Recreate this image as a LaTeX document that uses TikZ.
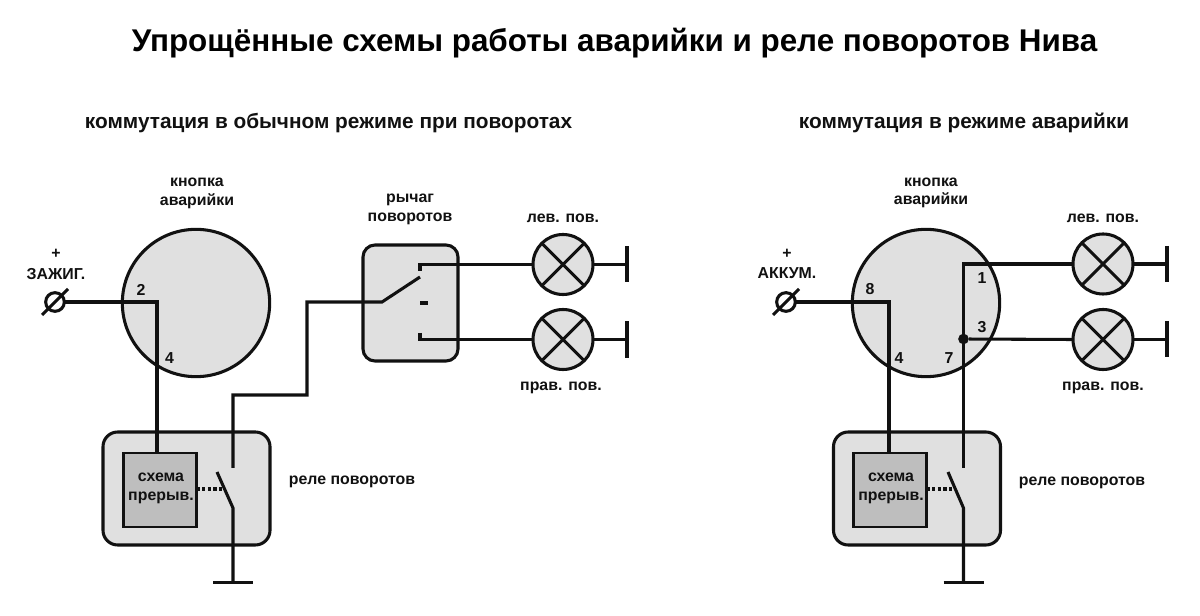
\documentclass[tikz,border=0pt]{standalone}
\usepackage{fontspec}
\setmainfont{Liberation Sans}
\definecolor{panel}{HTML}{E0E0E0}
\definecolor{inner}{HTML}{BEBEBE}
\definecolor{ink}{HTML}{111111}
\newcommand{\fs}[1]{\fontsize{#1}{#1}\selectfont\bfseries}
\tikzset{
  x=0.75pt,y=-0.75pt,
  wire/.style={draw=ink,line width=2.3pt,line join=miter},
  dotwire/.style={draw=ink,line width=2.3pt,dash pattern=on 2.4pt off 1.8pt},
  lbl/.style={inner sep=0pt,anchor=base,text=ink,font=\fs{11.9}},
  titlelbl/.style={lbl,font=\fs{23.55},text=black},
  sublbl/.style={lbl,font=\fs{15.6}},
  disc/.style={circle,draw=ink,fill=panel,line width=2.3pt,inner sep=0pt,minimum size=110.5pt,outer sep=0pt},
  lamp/.style={circle,draw=ink,fill=panel,line width=2.3pt,inner sep=0pt,minimum size=45pt,outer sep=0pt},
  term/.style={circle,draw=ink,fill=white,line width=2.3pt,inner sep=0pt,minimum size=14pt,outer sep=0pt},
  relaybox/.style={rectangle,draw=ink,fill=panel,line width=2.3pt,rounded corners=11pt,inner sep=0pt,minimum width=125.25pt,minimum height=84.75pt,outer sep=0pt},
  leverbox/.style={rectangle,draw=ink,fill=panel,line width=2.3pt,rounded corners=9pt,inner sep=0pt,minimum width=71.25pt,minimum height=87pt,outer sep=0pt},
  breaker/.style={rectangle,draw=ink,fill=inner,line width=2pt,inner sep=0pt,minimum width=55pt,minimum height=55.5pt,outer sep=0pt},
  junction/.style={circle,fill=ink,inner sep=0pt,minimum size=8pt},
}
\begin{document}
\begin{tikzpicture}
\useasboundingbox (0,0) rectangle (1200,616);
\fill[white] (0,0) rectangle (1200,616);
% headings
\node[titlelbl] (title) at (614.5,52) {Упрощённые схемы работы аварийки и реле поворотов Нива};
\node[sublbl] (subL) at (328.5,129) {коммутация в обычном режиме при поворотах};
\node[sublbl] (subR) at (964,129) {коммутация в режиме аварийки};

% ---------- LEFT ----------
\node[disc] (discL) at (196,303) {};
\node[relaybox] (relayL) at (186.5,488.5) {};
\node[breaker] (brkL) at (160,490) {};
\node[leverbox] (lever) at (410.5,303) {};
\node[term] (termL) at (55,302) {};
\node[lamp] (lampL1) at (563,264.5) {};
\node[lamp] (lampL2) at (563,339.5) {};
\coordinate (slashLa) at (42,315);
\coordinate (slashLb) at (68,289);
\draw[wire] (slashLa) -- (slashLb);
\coordinate (cornerL) at (157,302);
\draw[wire] (termL.east) -- (cornerL) -- (cornerL |- brkL.north);
% relay switch left
\coordinate (swLtop) at (233,395);
\coordinate (swLfix) at (233,468);
\coordinate (swLarmA) at (217,472);
\coordinate (swLarmB) at (233,508);
\coordinate (gndL) at (233,582.5);
\coordinate (gndLa) at (213,582.5);
\coordinate (gndLb) at (253,582.5);
\coordinate (upL) at (307,395);
\coordinate (upLb) at (307,302);
\coordinate (leverIn) at (382,302);
\coordinate (leverArm) at (420,277);
\draw[wire] (swLfix) -- (swLtop) -- (upL) -- (upLb) -- (leverIn) -- (leverArm);
\draw[wire] (swLarmA) -- (swLarmB) -- (gndL);
\draw[wire] (gndLa) -- (gndLb);
\coordinate (dotLend) at (224,489);
\draw[dotwire] (brkL.east |- dotLend) -- (dotLend);
% lever contacts
\coordinate (c1a) at (420,271);
\coordinate (c1b) at (420,264.5);
\coordinate (c2a) at (420,333);
\coordinate (c2b) at (420,339.5);
\coordinate (c0a) at (420,303);
\coordinate (c0b) at (428,303);
\draw[wire] (c1a) -- (c1b) -- (lampL1.west);
\draw[wire] (c2a) -- (c2b) -- (lampL2.west);
\draw[wire] (c0a) -- (c0b);
% lamps left
\draw[wire] (lampL1.45) -- (lampL1.225) (lampL1.135) -- (lampL1.315);
\draw[wire] (lampL2.45) -- (lampL2.225) (lampL2.135) -- (lampL2.315);
\coordinate (eL1a) at (627,246.5);
\coordinate (eL1b) at (627,282.5);
\coordinate (eL2a) at (627,321.5);
\coordinate (eL2b) at (627,358);
\draw[wire] (eL1a) -- (eL1b);
\draw[wire] (eL2a) -- (eL2b);
\draw[wire] (lampL1.east) -- (lampL1.east -| eL1a);
\draw[wire] (lampL2.east) -- (lampL2.east -| eL2a);

% ---------- RIGHT ----------
\node[disc] (discR) at (926,303) {};
\node[relaybox] (relayR) at (917,488.5) {};
\node[breaker] (brkR) at (890,490) {};
\node[term] (termR) at (786,302) {};
\node[lamp] (lampR1) at (1103,264) {};
\node[lamp] (lampR2) at (1103,339.5) {};
\coordinate (slashRa) at (773,315);
\coordinate (slashRb) at (799,289);
\draw[wire] (slashRa) -- (slashRb);
\coordinate (cornerR) at (889,302);
\draw[wire] (termR.east) -- (cornerR) -- (cornerR |- brkR.north);
\coordinate (swRfix) at (963.5,468);
\coordinate (swRtop) at (963.5,264);
\coordinate (swRarmA) at (948,472);
\coordinate (swRarmB) at (963.5,508);
\coordinate (gndR) at (963.5,582.5);
\coordinate (gndRa) at (943.5,582.5);
\coordinate (gndRb) at (983.5,582.5);
\draw[wire] (swRfix) -- (swRtop) -- (lampR1.west);
\node[junction] (jn) at (963.5,339) {};
\draw[wire] (jn) -- (lampR2.west);
\draw[wire] (swRarmA) -- (swRarmB) -- (gndR);
\draw[wire] (gndRa) -- (gndRb);
\coordinate (dotRend) at (955,489);
\draw[dotwire] (brkR.east |- dotRend) -- (dotRend);
\draw[wire] (lampR1.45) -- (lampR1.225) (lampR1.135) -- (lampR1.315);
\draw[wire] (lampR2.45) -- (lampR2.225) (lampR2.135) -- (lampR2.315);
\coordinate (eR1a) at (1167,246);
\coordinate (eR1b) at (1167,282);
\coordinate (eR2a) at (1167,321);
\coordinate (eR2b) at (1167,357);
\draw[wire] (eR1a) -- (eR1b);
\draw[wire] (eR2a) -- (eR2b);
\draw[wire] (lampR1.east) -- (lampR1.east -| eR1a);
\draw[wire] (lampR2.east) -- (lampR2.east -| eR2a);

% ---------- LABELS ----------
\node[lbl] (a1) at (197,186.5) {кнопка};
\node[lbl] (a2) at (197,205.5) {аварийки};
\node[lbl] (a3) at (56,259) {+};
\node[lbl] (a4) at (56,280) {ЗАЖИГ.};
\node[lbl] (a5) at (141,296) {2};
\node[lbl] (a6) at (169.5,364) {4};
\node[lbl] (a7) at (410,203) {рычаг};
\node[lbl] (a8) at (410,222) {поворотов};
\node[lbl] (a9) at (563,223) {лев. пов.};
\node[lbl] (a10) at (561,391) {прав. пов.};
\node[lbl] (a11) at (352,484) {реле поворотов};
\node[lbl] (a12) at (161,482) {схема};
\node[lbl] (a13) at (161,501) {прерыв.};
\node[lbl] (b1) at (931,186.5) {кнопка};
\node[lbl] (b2) at (931,205) {аварийки};
\node[lbl] (b3) at (787,259) {+};
\node[lbl] (b4) at (787,279) {АККУМ.};
\node[lbl] (b5) at (870,295) {8};
\node[lbl] (b6) at (899,363.5) {4};
\node[lbl] (b7) at (949,363.5) {7};
\node[lbl] (b8) at (982,284) {1};
\node[lbl] (b9) at (982,333) {3};
\node[lbl] (b10) at (1103,223) {лев. пов.};
\node[lbl] (b11) at (1103,391) {прав. пов.};
\node[lbl] (b12) at (1082,486) {реле поворотов};
\node[lbl] (b13) at (891,482) {схема};
\node[lbl] (b14) at (891,501) {прерыв.};
\end{tikzpicture}
\end{document}
